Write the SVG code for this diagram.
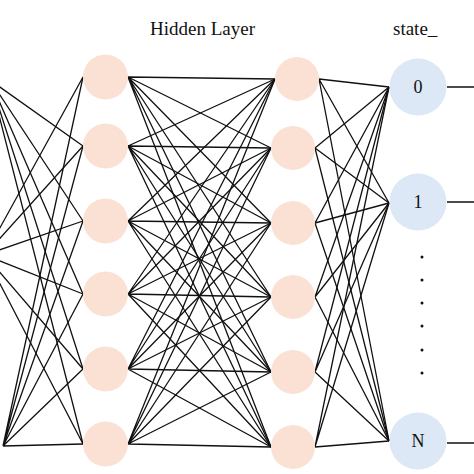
<svg xmlns="http://www.w3.org/2000/svg" width="474" height="474" viewBox="0 0 474 474">
<style>
.e{stroke:#111;stroke-width:1.3;fill:none}
.h{fill:#fae1d3}
.o{fill:#dce8f5}
.t{font-family:"Liberation Serif","Times New Roman",serif;font-size:19px;fill:#111}
.n{font-family:"Liberation Serif","Times New Roman",serif;font-size:18px;fill:#111;text-anchor:middle}
</style>
<rect width="474" height="474" fill="#fff"/>
<text class="t" x="150" y="35">Hidden Layer</text>
<text class="t" x="393" y="35">state_</text>
<g id="connectors" class="e">
<!-- input to hidden A -->
<path d="M-10 80L83 146M-10 80L83 221M-10 80L83 294M-10 80L83 369M-10 80L83 444"/>
<path d="M-15 255L83 77M-15 255L83 146M-15 255L83 221M-15 255L83 294M-15 255L83 369M-15 255L83 444"/>
<path d="M3 446L83 77M3 446L83 146M3 446L83 221M3 446L83 294M3 446L83 369M3 446L83 444"/>
<!-- hidden A to hidden B -->
<path d="M128 77L275 79M128 77L271 148M128 77L271 223M128 77L271 297M128 77L271 372M128 77L271 447"/>
<path d="M128 146L275 79M128 146L271 148M128 146L271 223M128 146L271 297M128 146L271 372M128 146L271 447"/>
<path d="M128 221L275 79M128 221L271 148M128 221L271 223M128 221L271 297M128 221L271 372M128 221L271 447"/>
<path d="M128 294L275 79M128 294L271 148M128 294L271 223M128 294L271 297M128 294L271 372M128 294L271 447"/>
<path d="M128 369L275 79M128 369L271 148M128 369L271 223M128 369L271 297M128 369L271 372M128 369L271 447"/>
<path d="M128 444L275 79M128 444L271 148M128 444L271 223M128 444L271 297M128 444L271 372M128 444L271 447"/>
<!-- hidden B to output -->
<path d="M319 79L389 87M319 79L389 203M319 79L389 441"/>
<path d="M315 148L389 87M315 148L389 203M315 148L389 441"/>
<path d="M315 223L389 87M315 223L389 203M315 223L389 441"/>
<path d="M315 297L389 87M315 297L389 203M315 297L389 441"/>
<path d="M315 372L389 87M315 372L389 203M315 372L389 441"/>
<path d="M315 447L389 87M315 447L389 203M315 447L389 441"/>
<!-- output tails -->
<path d="M447 87L474 87M447 202L474 202M447 443L474 443"/>
</g>
<g id="hA1"><circle class="h" cx="105.5" cy="77" r="22.5"/></g>
<g id="hA2"><circle class="h" cx="105.5" cy="146" r="22.5"/></g>
<g id="hA3"><circle class="h" cx="105.5" cy="221" r="22.5"/></g>
<g id="hA4"><circle class="h" cx="105.5" cy="294" r="22.5"/></g>
<g id="hA5"><circle class="h" cx="105.5" cy="369" r="22.5"/></g>
<g id="hA6"><circle class="h" cx="105.5" cy="444" r="22.5"/></g>
<g id="hB1"><circle class="h" cx="297" cy="79" r="22"/></g>
<g id="hB2"><circle class="h" cx="293" cy="148" r="22"/></g>
<g id="hB3"><circle class="h" cx="293" cy="223" r="22"/></g>
<g id="hB4"><circle class="h" cx="293" cy="297" r="22"/></g>
<g id="hB5"><circle class="h" cx="293" cy="372" r="22"/></g>
<g id="hB6"><circle class="h" cx="293" cy="447" r="22"/></g>
<g id="out0"><circle class="o" cx="418" cy="87" r="28.5"/><text class="n" x="418" y="93">0</text></g>
<g id="out1"><circle class="o" cx="418" cy="202" r="28.5"/><text class="n" x="418" y="208">1</text></g>
<g id="outN"><circle class="o" cx="418" cy="441" r="28.5"/><text class="n" x="418" y="447">N</text></g>
<g id="dots" fill="#111">
<circle cx="422" cy="257" r="1.5"/><circle cx="422" cy="280" r="1.5"/><circle cx="422" cy="303" r="1.5"/>
<circle cx="422" cy="326" r="1.5"/><circle cx="422" cy="350" r="1.5"/><circle cx="422" cy="373" r="1.5"/>
</g>
</svg>
